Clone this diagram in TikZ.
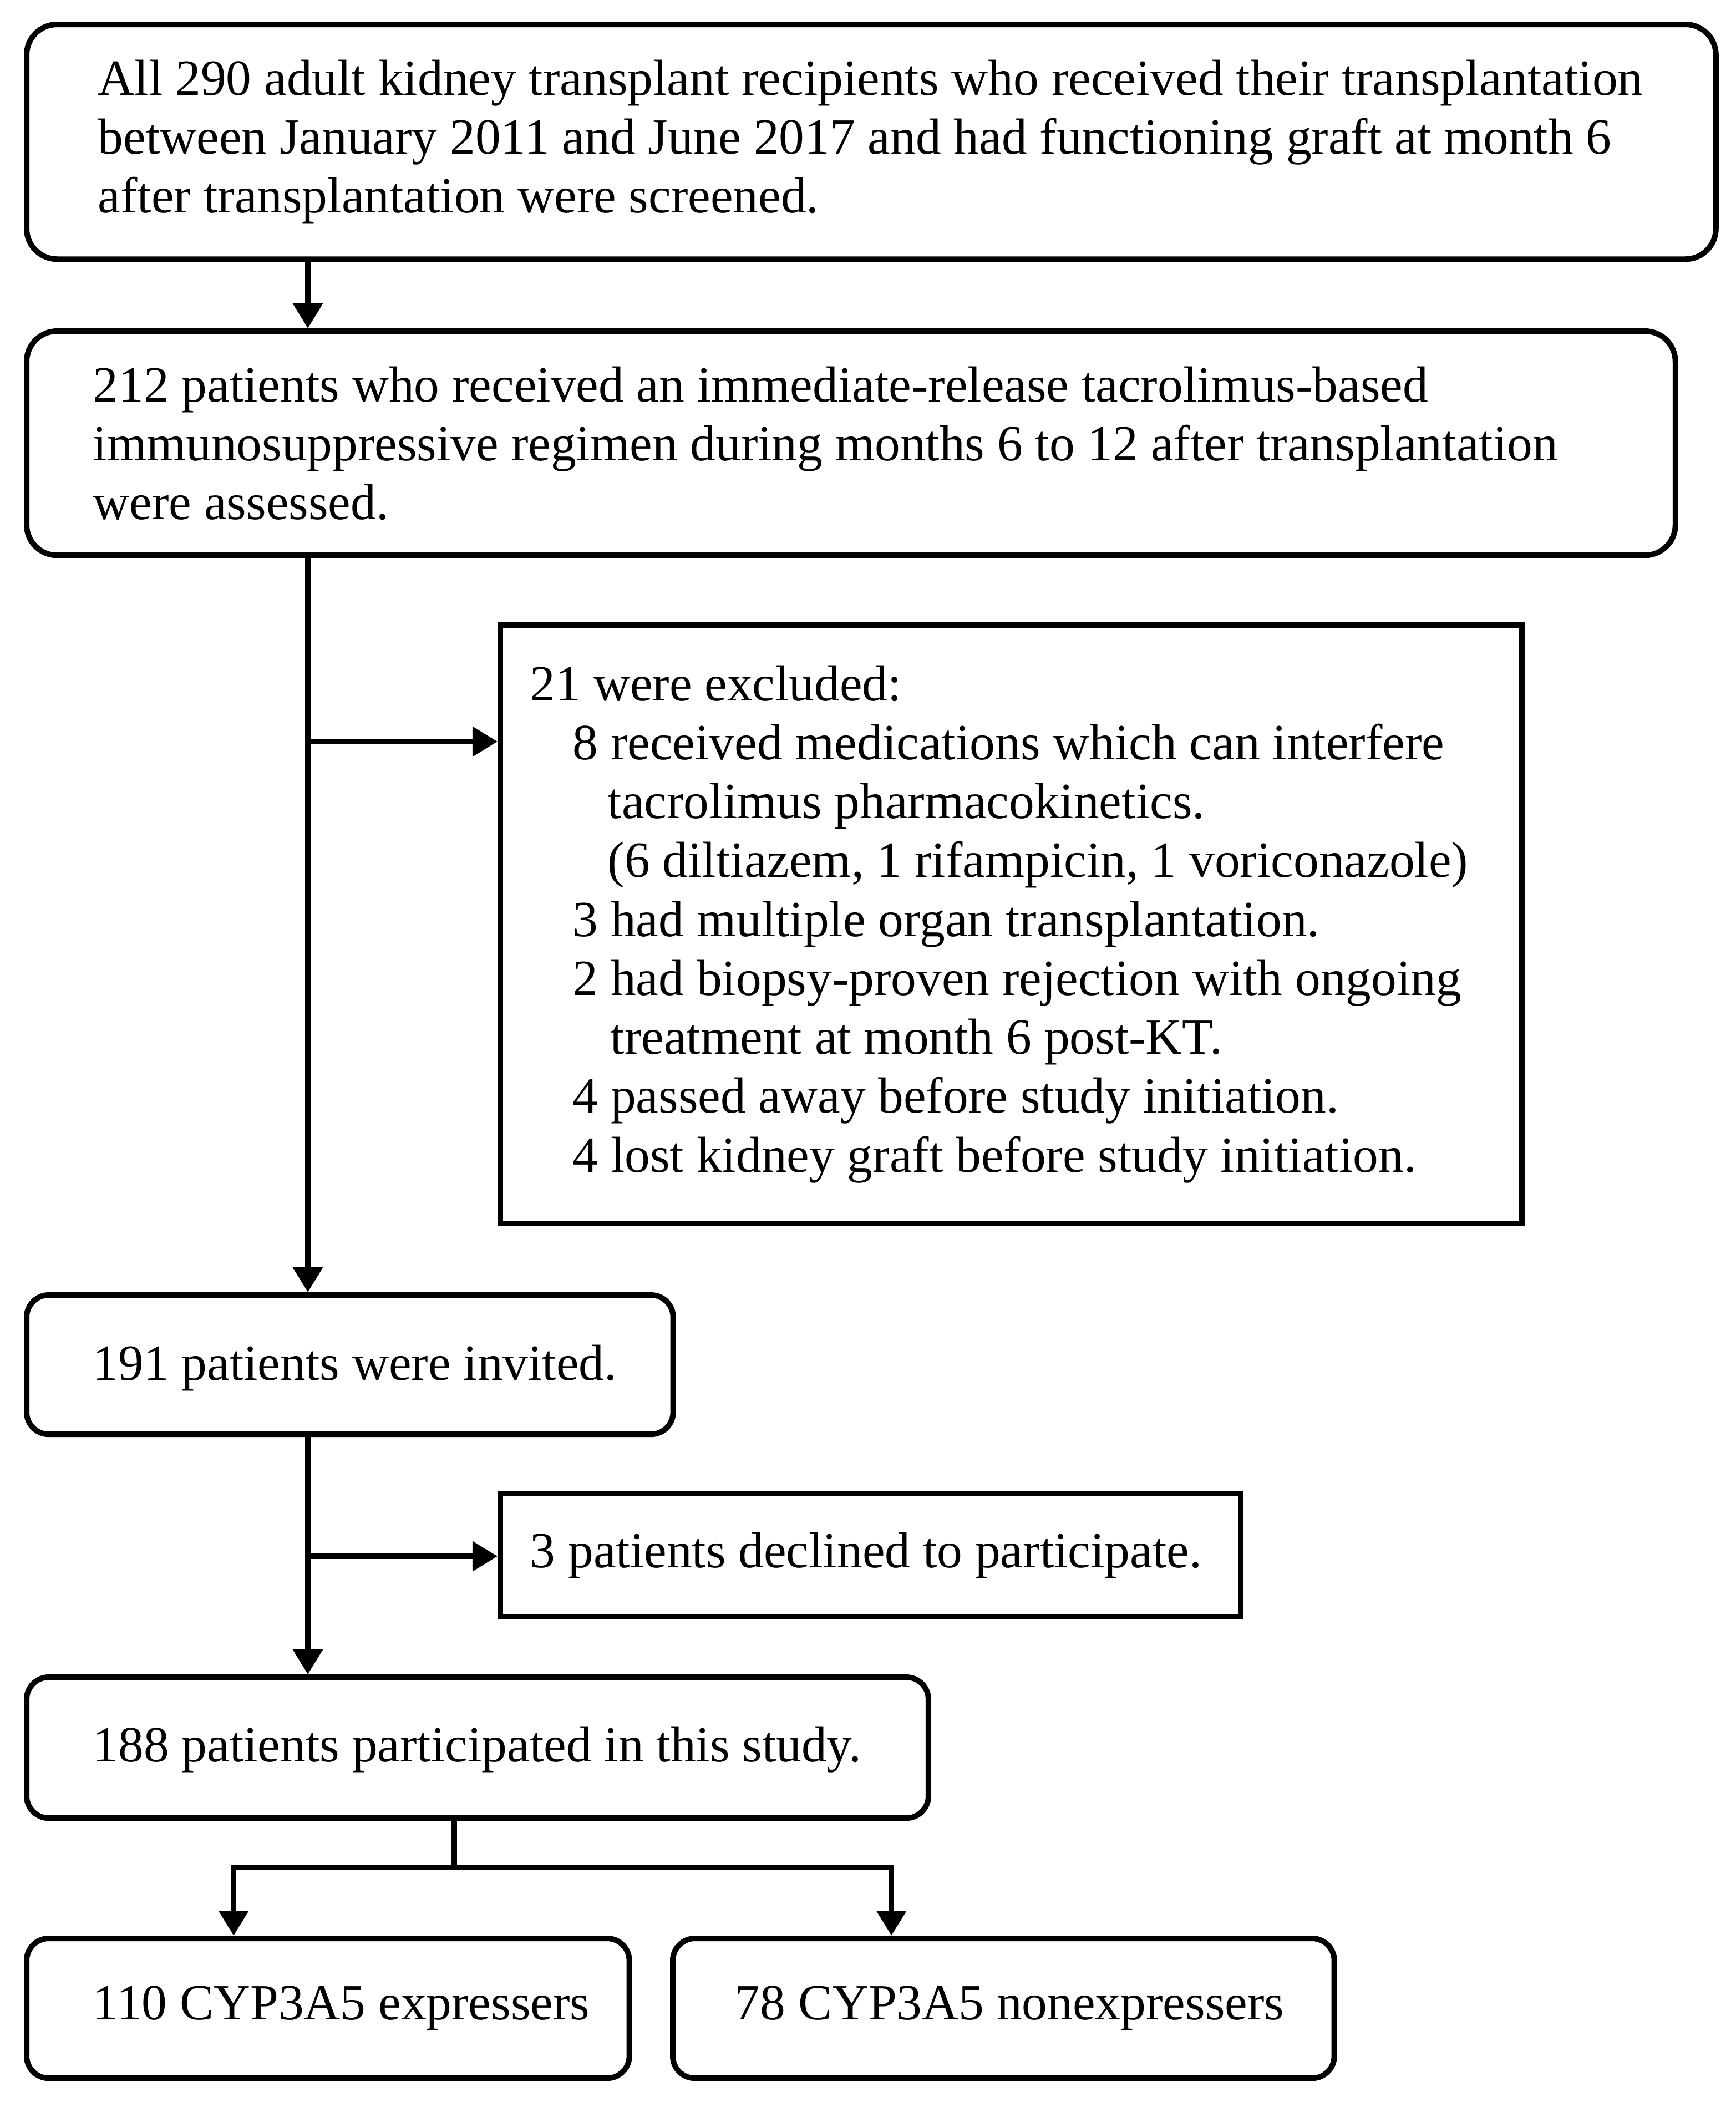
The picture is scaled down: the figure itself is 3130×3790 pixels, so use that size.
\documentclass[tikz,border=0pt]{standalone}
\usepackage{fontspec}
\setmainfont{Liberation Serif}
\usetikzlibrary{arrows.meta}

\tikzset{
	rbox/.style={draw, line width=0.1cm, rounded corners=0.55cm, anchor=north west, inner sep=0pt},
	sbox/.style={draw, line width=0.1cm, anchor=north west, inner sep=0pt},
	txt/.style={anchor=west, align=left, inner sep=0pt, font=\fontsize{26}{30.2}\selectfont},
	arr/.style={-{Triangle[length=0.45cm, width=0.52cm]}, line width=0.1cm},
}

\begin{document}
\begin{tikzpicture}[x=0.01cm, y=-0.01cm]
	\useasboundingbox (0,0) rectangle (3130,3790);
	
	% boxes
	\node[rbox, minimum width=30.44cm, minimum height=4.23cm] (screen) at (43,39) {};
	\node[rbox, minimum width=29.71cm, minimum height=4.04cm] (assess) at (43,592) {};
	\node[sbox, minimum width=18.41cm, minimum height=10.78cm] (excl) at (897,1122) {};
	\node[rbox, rounded corners=0.4cm, minimum width=11.65cm, minimum height=2.51cm] (invite) at (43,2330) {};
	\node[sbox, minimum width=13.34cm, minimum height=2.22cm] (decline) at (897,2688) {};
	\node[rbox, rounded corners=0.4cm, minimum width=16.25cm, minimum height=2.54cm] (partic) at (43,3019) {};
	\node[rbox, rounded corners=0.4cm, minimum width=10.86cm, minimum height=2.52cm] (expr) at (43,3490) {};
	\node[rbox, rounded corners=0.4cm, minimum width=11.92cm, minimum height=2.52cm] (nonexpr) at (1208,3490) {};
	
	% texts
	\node[txt] (screentxt) at ([xshift=1.33cm]screen.west) {All 290 adult kidney transplant recipients who received their transplantation\\
		between January 2011 and June 2017 and had functioning graft at month 6\\
		after transplantation were screened.};
	\node[txt] (assesstxt) at ([xshift=1.24cm]assess.west) {212 patients who received an immediate-release tacrolimus-based\\
		immunosuppressive regimen during months 6 to 12 after transplantation\\
		were assessed.};
	\node[txt] (excltxt) at ([xshift=0.58cm]excl.west) {21 were excluded:\\
		\hspace*{0.77cm}8 received medications which can interfere\\
		\hspace*{1.40cm}tacrolimus pharmacokinetics.\\
		\hspace*{1.40cm}(6 diltiazem, 1 rifampicin, 1 voriconazole)\\
		\hspace*{0.77cm}3 had multiple organ transplantation.\\
		\hspace*{0.77cm}2 had biopsy-proven rejection with ongoing\\
		\hspace*{1.45cm}treatment at month 6 post-KT.\\
		\hspace*{0.77cm}4 passed away before study initiation.\\
		\hspace*{0.77cm}4 lost kidney graft before study initiation.};
	\node[txt] (invitetxt) at ([xshift=1.24cm, yshift=-0.06cm]invite.west) {191 patients were invited.};
	\node[txt] (declinetxt) at ([xshift=0.58cm]decline.west) {3 patients declined to participate.};
	\node[txt] (partictxt) at ([xshift=1.24cm, yshift=-0.04cm]partic.west) {188 patients participated in this study.};
	\node[txt] (exprtxt) at ([xshift=1.24cm]expr.west) {110 CYP3A5 expressers};
	\node[txt] (nonexprtxt) at ([xshift=1.16cm]nonexpr.west) {78 CYP3A5 nonexpressers};
	
	% connectors
	\coordinate (trunk) at (555,0);
	\coordinate (branchA) at (555,1337);
	\coordinate (branchB) at (555,2806);
	\coordinate (split) at (819,3367);
	\draw[arr] (screen.south -| trunk) -- (assess.north -| trunk);
	\draw[arr] (assess.south -| trunk) -- (invite.north -| trunk);
	\draw[arr] (branchA) -- (branchA -| excl.west);
	\draw[arr] (invite.south -| trunk) -- (partic.north -| trunk);
	\draw[arr] (branchB) -- (branchB -| decline.west);
	\draw[line width=0.1cm] (partic.south -| split) -- (split);
	\draw[arr] (split) -| ([xshift=3.78cm]expr.north west);
	\draw[arr] (split) -| ([xshift=3.99cm]nonexpr.north west);
\end{tikzpicture}
\end{document}
